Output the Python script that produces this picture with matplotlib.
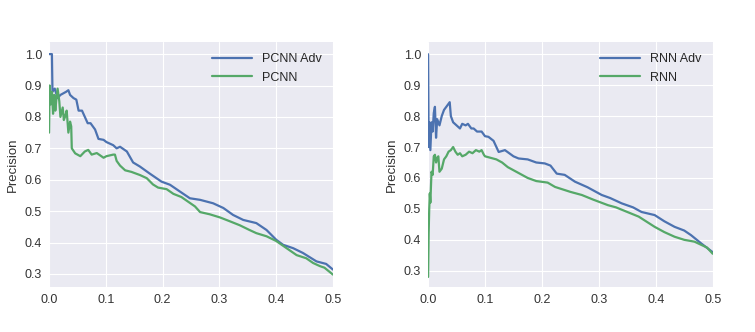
import numpy as np
import matplotlib
matplotlib.use("Agg")
import matplotlib.pyplot as plt

plt.style.use("seaborn-v0_8-darkgrid")
plt.rcParams['font.family'] = ['Liberation Sans', 'DejaVu Sans']

BLUE = "#4C72B0"
GREEN = "#55A868"

# --- linke Grafik: PCNN ---
pcnn_adv_x = [0.0, 0.005, 0.006, 0.01, 0.015, 0.02, 0.03, 0.034, 0.037, 0.043, 0.048, 0.052,
              0.058, 0.063, 0.068, 0.073, 0.081, 0.087, 0.096, 0.101, 0.113, 0.119, 0.125,
              0.137, 0.148, 0.16, 0.177, 0.198, 0.213, 0.23, 0.248, 0.266, 0.289, 0.307,
              0.324, 0.342, 0.365, 0.383, 0.4, 0.412, 0.43, 0.447, 0.471, 0.488, 0.5]
pcnn_adv_y = [1.0, 1.0, 0.88, 0.89, 0.86, 0.87, 0.88, 0.885, 0.87, 0.86, 0.855, 0.82,
              0.82, 0.8, 0.78, 0.78, 0.76, 0.73, 0.727, 0.72, 0.71, 0.70, 0.705,
              0.69, 0.655, 0.642, 0.62, 0.594, 0.584, 0.563, 0.541, 0.536, 0.525, 0.51,
              0.488, 0.472, 0.462, 0.44, 0.409, 0.393, 0.382, 0.367, 0.34, 0.332, 0.314]

pcnn_x = [0.0, 0.001, 0.003, 0.005, 0.007, 0.009, 0.011, 0.013, 0.015, 0.018, 0.02, 0.024,
          0.026, 0.028, 0.031, 0.034, 0.037, 0.039, 0.04, 0.046, 0.055, 0.063, 0.069,
          0.075, 0.084, 0.096, 0.101, 0.113, 0.116, 0.119, 0.125, 0.134, 0.145, 0.16,
          0.172, 0.183, 0.192, 0.207, 0.219, 0.233, 0.245, 0.257, 0.266, 0.283, 0.301,
          0.318, 0.336, 0.353, 0.365, 0.383, 0.4, 0.412, 0.424, 0.436, 0.453, 0.465,
          0.477, 0.485, 0.5]
pcnn_y = [0.75, 0.90, 0.84, 0.88, 0.81, 0.87, 0.82, 0.86, 0.89, 0.85, 0.80, 0.83,
          0.79, 0.80, 0.82, 0.75, 0.785, 0.77, 0.70, 0.684, 0.675, 0.69, 0.695,
          0.68, 0.685, 0.67, 0.675, 0.68, 0.68, 0.66, 0.645, 0.63, 0.625, 0.615,
          0.605, 0.585, 0.575, 0.57, 0.555, 0.545, 0.53, 0.515, 0.497, 0.49, 0.48,
          0.468, 0.455, 0.44, 0.43, 0.42, 0.405, 0.39, 0.375, 0.36, 0.35, 0.335,
          0.325, 0.32, 0.298]

# --- rechte Grafik: RNN ---
rnn_adv_x = [0.0, 0.001, 0.002, 0.004, 0.006, 0.008, 0.01, 0.012, 0.014, 0.016, 0.02,
             0.024, 0.028, 0.034, 0.038, 0.04, 0.044, 0.05, 0.056, 0.06, 0.066, 0.07,
             0.076, 0.08, 0.086, 0.094, 0.1, 0.106, 0.115, 0.12, 0.124, 0.135, 0.15,
             0.159, 0.175, 0.19, 0.205, 0.215, 0.226, 0.24, 0.258, 0.28, 0.305, 0.32,
             0.34, 0.36, 0.375, 0.398, 0.415, 0.433, 0.45, 0.462, 0.48, 0.5]
rnn_adv_y = [1.0, 0.70, 0.78, 0.69, 0.78, 0.75, 0.81, 0.83, 0.73, 0.79, 0.77,
             0.80, 0.82, 0.835, 0.845, 0.80, 0.78, 0.77, 0.76, 0.775, 0.77, 0.775,
             0.76, 0.76, 0.75, 0.75, 0.735, 0.733, 0.72, 0.70, 0.684, 0.69, 0.67,
             0.663, 0.66, 0.65, 0.647, 0.64, 0.614, 0.61, 0.588, 0.57, 0.545, 0.535,
             0.518, 0.505, 0.49, 0.48, 0.46, 0.442, 0.43, 0.415, 0.388, 0.36]

rnn_x = [0.0, 0.001, 0.002, 0.003, 0.004, 0.006, 0.008, 0.01, 0.012, 0.014, 0.016,
         0.018, 0.02, 0.024, 0.028, 0.032, 0.036, 0.04, 0.044, 0.048, 0.052, 0.056,
         0.06, 0.066, 0.072, 0.078, 0.084, 0.09, 0.094, 0.098, 0.1, 0.11, 0.12, 0.13,
         0.14, 0.15, 0.16, 0.175, 0.19, 0.21, 0.223, 0.25, 0.27, 0.29, 0.316, 0.33,
         0.35, 0.37, 0.398, 0.415, 0.433, 0.45, 0.468, 0.49, 0.5]
rnn_y = [0.28, 0.42, 0.50, 0.55, 0.52, 0.62, 0.61, 0.67, 0.675, 0.65, 0.665,
         0.67, 0.62, 0.63, 0.66, 0.67, 0.685, 0.69, 0.70, 0.685, 0.675, 0.68,
         0.67, 0.675, 0.685, 0.68, 0.69, 0.685, 0.69, 0.675, 0.67, 0.665, 0.66, 0.65,
         0.635, 0.625, 0.615, 0.60, 0.59, 0.585, 0.571, 0.555, 0.545, 0.53, 0.512, 0.505,
         0.49, 0.475, 0.442, 0.425, 0.41, 0.40, 0.394, 0.375, 0.355]

fig = plt.figure(figsize=(7.55, 3.32), dpi=100)
ax1 = fig.add_axes([0.065, 0.136, 0.376, 0.737])
ax2 = fig.add_axes([0.567, 0.136, 0.377, 0.737])

panels = [
    (ax1, pcnn_adv_x, pcnn_adv_y, pcnn_x, pcnn_y, "PCNN Adv", "PCNN", (0.259, 1.038)),
    (ax2, rnn_adv_x, rnn_adv_y, rnn_x, rnn_y, "RNN Adv", "RNN", (0.248, 1.039)),
]

for ax, xa, ya, xb, yb, lab_a, lab_b, ylim in panels:
    ax.plot(xa, ya, color=BLUE, linewidth=1.6, label=lab_a)
    ax.plot(xb, yb, color=GREEN, linewidth=1.6, label=lab_b)
    ax.set_xlim(0, 0.5)
    ax.set_ylim(*ylim)
    ax.set_xticks(np.arange(0, 0.51, 0.1))
    ax.set_yticks(np.arange(0.3, 1.01, 0.1))
    ax.set_xticklabels(["0.0", "0.1", "0.2", "0.3", "0.4", "0.5"])
    ax.tick_params(labelsize=9, colors="#333333", pad=5)
    ax.set_ylabel("Precision", fontsize=9.5, color="#333333")
    ax.legend(loc="upper right", fontsize=9, frameon=False, handlelength=3.2)

fig.savefig("out.png", dpi=100)
